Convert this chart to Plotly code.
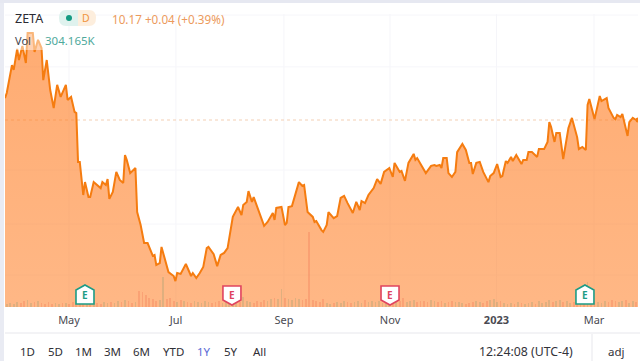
import numpy as np
import plotly.graph_objects as go

W, H = 640, 361
PLOT_L, PLOT_R, PLOT_B = 5, 638, 307

# Calendar-day offset from the first session of the one-year window
days = [
    0, 1, 4, 5, 7, 8, 10, 12, 13, 16,
    17, 19, 21, 22, 24, 26, 28, 30, 32, 35,
    36, 38, 40, 41, 42, 43, 45, 46, 48, 49,
    51, 53, 55, 56, 58, 59, 60, 62, 64, 66,
    68, 69, 70, 72, 75, 76, 78, 80, 82, 85,
    86, 87, 89, 90, 92, 94, 97, 98, 99, 101,
    104, 107, 108, 110, 112, 114, 116, 117, 120, 122,
    124, 126, 128, 129, 131, 134, 136, 137, 139, 140,
    142, 143, 145, 148, 149, 151, 154, 155, 156, 159,
    161, 162, 163, 165, 167, 169, 171, 172, 174, 177,
    178, 179, 182, 183, 185, 186, 189, 191, 193, 195,
    197, 200, 202, 204, 205, 207, 209, 212, 214, 216,
    218, 221, 223, 224, 227, 228, 230, 232, 235, 236,
    237, 240, 242, 245, 247, 248, 250, 251, 252, 254,
    255, 257, 259, 260, 263, 265, 267, 268, 269, 271,
    273, 275, 278, 279, 281, 283, 285, 286, 288, 289,
    291, 292, 294, 297, 298, 300, 301, 303, 306, 307,
    310, 312, 313, 314, 316, 317, 319, 321, 323, 324,
    326, 328, 329, 330, 332, 334, 335, 336, 339, 342,
    343, 346, 347, 350, 351, 352, 354, 355, 358, 359,
    361, 362, 364,
]
prices = [
    10.90, 11.07, 12.00, 11.84, 12.54, 12.17, 12.64, 12.07, 13.07, 13.07,
    12.44, 12.84, 12.57, 11.50, 12.17, 11.17, 10.57, 11.34, 10.94, 11.34,
    10.84, 10.94, 10.44, 10.40, 8.77, 8.77, 7.67, 8.10, 7.60, 7.60,
    8.10, 8.00, 7.90, 8.10, 8.00, 8.20, 7.54, 7.77, 8.44, 8.17,
    8.07, 9.00, 8.84, 8.40, 8.57, 7.10, 6.67, 6.07, 6.07, 5.64,
    5.67, 5.34, 5.40, 5.94, 5.50, 5.10, 4.97, 4.80, 5.07, 5.04,
    5.37, 4.97, 5.07, 4.90, 5.07, 5.27, 5.90, 5.94, 5.70, 5.30,
    5.67, 5.74, 5.90, 6.27, 6.94, 7.27, 7.00, 7.34, 7.44, 7.80,
    7.44, 7.60, 7.27, 6.77, 6.64, 6.77, 7.07, 6.84, 7.24, 7.27,
    6.67, 6.74, 7.27, 7.30, 7.74, 8.10, 7.97, 8.00, 7.10, 6.94,
    6.77, 6.80, 6.50, 6.44, 6.67, 7.10, 6.90, 6.97, 7.57, 7.64,
    7.40, 7.07, 7.44, 7.17, 7.47, 7.40, 7.67, 7.90, 8.20, 8.04,
    8.44, 8.57, 8.27, 8.74, 8.44, 8.47, 8.14, 8.74, 9.04, 8.84,
    8.90, 8.60, 8.40, 8.64, 8.67, 8.64, 8.67, 8.57, 8.90, 8.90,
    8.40, 8.27, 8.44, 9.10, 9.37, 9.17, 8.74, 8.74, 8.37, 8.74,
    8.77, 8.44, 8.10, 8.30, 8.40, 8.70, 8.27, 8.30, 8.80, 8.74,
    8.94, 8.80, 9.00, 8.70, 8.84, 8.84, 9.10, 9.10, 8.94, 9.20,
    9.20, 9.44, 10.10, 9.94, 9.44, 9.74, 9.74, 8.87, 9.67, 9.90,
    10.24, 9.77, 9.60, 9.20, 9.27, 9.17, 10.67, 10.87, 10.20, 10.97,
    10.80, 10.90, 10.57, 10.24, 10.20, 10.34, 10.27, 10.37, 9.64, 10.10,
    10.24, 10.20, 10.17,
]
# Volume read every second calendar day (relative units)
volume = [
    3, 4, 3, 5, 4, 6, 7, 4, 5, 6,
    4, 3, 5, 3, 4, 3, 4, 4, 3, 5,
    3, 4, 4, 5, 6, 7, 4, 3, 5, 4,
    5, 4, 6, 5, 7, 6, 4, 5, 16, 15,
    12, 9, 8, 6, 7, 30, 8, 9, 6, 5,
    7, 6, 5, 4, 6, 5, 4, 6, 5, 4,
    5, 6, 4, 5, 4, 7, 6, 5, 10, 6,
    5, 4, 6, 5, 7, 6, 8, 9, 8, 18,
    9, 8, 7, 9, 8, 7, 8, 75, 7, 6,
    5, 8, 4, 3, 4, 5, 4, 6, 5, 4,
    5, 6, 4, 7, 5, 6, 5, 6, 4, 5,
    6, 7, 5, 6, 9, 5, 6, 7, 5, 6,
    6, 5, 7, 6, 5, 6, 4, 5, 6, 5,
    5, 4, 3, 4, 5, 6, 5, 4, 6, 7,
    8, 5, 6, 4, 3, 4, 3, 5, 4, 3,
    4, 5, 3, 6, 4, 5, 7, 5, 6, 7,
    5, 6, 4, 5, 6, 5, 6, 25, 5, 6,
    5, 4, 6, 5, 7, 6, 5, 6, 7, 4,
    6, 5,
]
volume_days = list(range(1, 364, 2))

tick_days = [36.8, 98.3, 160.4, 221.4, 282.6, 338.7]
tick_labels = ["May", "Jul", "Sep", "Nov", "<b>2023</b>", "Mar"]
last_price = 10.17
earnings_days = [46, 130.5, 221.4, 333.5]
earnings_beat = [True, False, False, True]
range_buttons = ["1D", "5D", "1M", "3M", "6M", "YTD", "1Y", "5Y", "All"]
button_x = [27, 55, 83, 112, 141, 173, 204, 231, 259]
price_levels = [13.67, 11.94, 8.5, 6.7, 5.0]

PRICE_TOP = 14.17
PRICE_BOTTOM = 14.17 - PLOT_B / 30
ORANGE = "#f57c10"
FONT = "Noto Sans, Open Sans, sans-serif"


def px(x):
    return x / W


def py(y):
    return 1 - y / H


up = np.interp(volume_days, days, prices) >= np.interp(np.array(volume_days) - 2, days, prices)
vol_colors = ["rgba(120,150,110,0.24)" if u else "rgba(235,95,65,0.24)" for u in up]

fig = go.Figure()
fig.add_trace(go.Scatter(
    x=days, y=prices, mode="lines", fill="tozeroy",
    line=dict(color=ORANGE, width=2),
    fillgradient=dict(type="vertical", start=PRICE_TOP, stop=PRICE_BOTTOM,
                      colorscale=[[0, "rgba(255,127,38,0.66)"], [1, "rgba(255,127,38,0.56)"]]),
    hoverinfo="skip", showlegend=False,
))
fig.add_trace(go.Scatter(
    x=days[-1:], y=prices[-1:], mode="markers",
    marker=dict(color=ORANGE, size=5), hoverinfo="skip", showlegend=False,
))
fig.add_trace(go.Bar(
    x=volume_days, y=volume, yaxis="y2", width=1.0, marker=dict(color=vol_colors, line_width=0),
    hoverinfo="skip", showlegend=False,
))

shapes = []
# Frame strips
shapes.append(dict(type="rect", xref="paper", yref="paper", x0=0, x1=px(PLOT_L - 1), y0=0, y1=1,
                   fillcolor="#e9ebf3", line_width=0))
shapes.append(dict(type="rect", xref="paper", yref="paper", x0=0, x1=1, y0=py(3), y1=1,
                   fillcolor="#e6e8f1", line_width=0))
# Grid
for d in tick_days:
    shapes.append(dict(type="line", xref="x", yref="paper", x0=d, x1=d, y0=py(PLOT_B), y1=py(14),
                       line=dict(color="#f5f5f9", width=1), layer="below"))
for p in price_levels:
    shapes.append(dict(type="line", xref="paper", yref="y", x0=px(PLOT_L), x1=px(PLOT_R), y0=p, y1=p,
                       line=dict(color="#f6f6fa", width=1), layer="below"))
# Last-price line
shapes.append(dict(type="line", xref="paper", yref="y", x0=px(PLOT_L), x1=px(PLOT_R),
                   y0=last_price, y1=last_price,
                   line=dict(color="#f3cfb4", width=1, dash="dot"), layer="below"))
# Veil behind the Vol legend
shapes.append(dict(type="rect", xref="paper", yref="paper", x0=px(13), x1=px(92), y0=py(50), y1=py(32),
                   fillcolor="rgba(255,255,255,0.45)", line_width=0))
# Separators
shapes.append(dict(type="line", xref="paper", yref="paper", x0=px(PLOT_L), x1=1, y0=py(333), y1=py(333),
                   line=dict(color="#e7e7ec", width=1)))
shapes.append(dict(type="line", xref="paper", yref="paper", x0=px(592), x1=px(592), y0=0, y1=py(334),
                   line=dict(color="#e7e7ec", width=1)))
# Status pill
shapes.append(dict(type="path", xref="paper", yref="paper",
                   path=f"M {px(66)} {py(10)} L {px(78)} {py(10)} L {px(78)} {py(26)} L {px(66)} {py(26)} "
                        f"Q {px(59)} {py(26)} {px(59)} {py(18)} Q {px(59)} {py(10)} {px(66)} {py(10)} Z",
                   fillcolor="#dff2ee", line_width=0))
shapes.append(dict(type="path", xref="paper", yref="paper",
                   path=f"M {px(78)} {py(10)} L {px(89)} {py(10)} Q {px(96)} {py(10)} {px(96)} {py(18)} "
                        f"Q {px(96)} {py(26)} {px(89)} {py(26)} L {px(78)} {py(26)} Z",
                   fillcolor="#fdeedd", line_width=0))
shapes.append(dict(type="circle", xref="paper", yref="paper", x0=px(66), x1=px(72), y0=py(21), y1=py(15),
                   fillcolor="#149a82", line_width=0))
# Earnings flags (pixel offsets, upward positive)
for d, beat in zip(earnings_days, earnings_beat):
    color = "#1d9c86" if beat else "#e0445f"
    if beat:
        path = "M 0 10 L 9 5 L 9 -9 L -9 -9 L -9 5 Z"
    else:
        path = "M -9 9 L 9 9 L 9 -5 L 0 -10 L -9 -5 Z"
    shapes.append(dict(type="path", xref="x", yref="y", xsizemode="pixel", ysizemode="pixel",
                       xanchor=d, yanchor=PRICE_BOTTOM + 12 / 30, path=path,
                       fillcolor="white", line=dict(color=color, width=1.6)))

annotations = []


def label(text, x, y, size=11.5, color="#333", anchor="left"):
    annotations.append(dict(text=text, xref="paper", yref="paper", x=px(x), y=py(y), showarrow=False,
                            xanchor=anchor, yanchor="middle",
                            font=dict(family=FONT, size=size, color=color), align=anchor))


label("ZETA", 13, 19, size=12.5, color="#2b2b33")
label("D", 86, 18, size=10.5, color="#f0953f", anchor="center")
label("10.17 +0.04 (+0.39%)", 110, 19, size=11.7, color="#ec9a5c")
label("Vol", 13, 40, size=11, color="#44444c")
label("304.165K", 43, 40, size=11.5, color="#4fa99c")
for name, x in zip(range_buttons, button_x):
    label(name, x, 351, size=11.5, color="#5b6bd6" if name == "1Y" else "#2f2f36", anchor="center")
label("12:24:08 (UTC-4)", 526, 351, size=12.3, color="#33333a", anchor="center")
label("adj", 606, 351, size=11.5, color="#33333a")
for d, beat in zip(earnings_days, earnings_beat):
    annotations.append(dict(text="<b>E</b>", xref="x", yref="y", x=d, y=PRICE_BOTTOM + 12 / 30, showarrow=False,
                            font=dict(family=FONT, size=10, color="#1d9c86" if beat else "#e0445f")))

fig.update_layout(
    width=W, height=H, margin=dict(l=0, r=0, t=0, b=0), paper_bgcolor="white", plot_bgcolor="white",
    showlegend=False, bargap=0, shapes=shapes, annotations=annotations, hovermode=False,
    xaxis=dict(domain=[px(PLOT_L), px(PLOT_R)], range=[0, 364], showgrid=False, zeroline=False, showline=False,
               tickmode="array", tickvals=tick_days, ticktext=tick_labels, ticks="outside", ticklen=3,
               tickcolor="rgba(0,0,0,0)", tickfont=dict(family=FONT, size=11, color="#4a4a52")),
    yaxis=dict(domain=[py(PLOT_B), 1], range=[PRICE_BOTTOM, PRICE_TOP], visible=False),
    yaxis2=dict(domain=[py(PLOT_B), 1], range=[0, PLOT_B], overlaying="y", visible=False),
)
fig.write_html("out.html", config={"displayModeBar": False},
               post_script="document.body.style.margin='0';document.body.style.overflow='hidden';")
